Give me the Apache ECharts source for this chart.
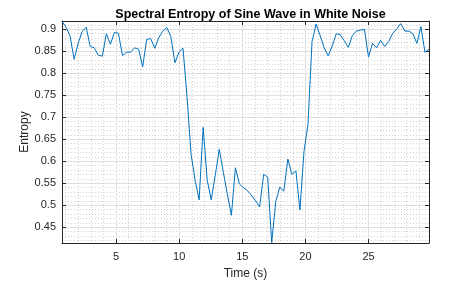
<!DOCTYPE html>
<html><head><meta charset="utf-8">
<script src="https://cdn.jsdelivr.net/npm/echarts@6/dist/echarts.min.js"></script>
<style>html,body{margin:0;padding:0;background:#fff}#c{width:474px;height:285px}</style>
</head><body><div id="c"></div>
<script>
const titleText = 'Spectral Entropy of Sine Wave in White Noise';
const xName = 'Time (s)';
const yName = 'Entropy';
const times = [
  0.714,1.034,1.353,1.673,1.992,2.312,2.631,2.951,3.270,3.590,
  3.909,4.229,4.548,4.868,5.187,5.507,5.826,6.146,6.465,6.785,
  7.104,7.424,7.743,8.063,8.382,8.702,9.021,9.341,9.660,9.980,
  10.299,10.619,10.938,11.258,11.577,11.897,12.216,12.536,12.855,13.175,
  13.494,13.814,14.133,14.453,14.772,15.092,15.411,15.731,16.050,16.370,
  16.689,17.009,17.328,17.648,17.967,18.287,18.606,18.926,19.245,19.565,
  19.884,20.204,20.523,20.843,21.162,21.482,21.801,22.121,22.440,22.760,
  23.079,23.399,23.718,24.038,24.357,24.677,24.996,25.316,25.635,25.955,
  26.274,26.594,26.913,27.233,27.552,27.872,28.191,28.511,28.830,29.150,
  29.469,29.789
];
const entropy = [
  0.918,0.905,0.885,0.832,0.868,0.895,0.905,0.861,0.858,0.841,
  0.839,0.890,0.866,0.893,0.891,0.840,0.848,0.848,0.858,0.855,
  0.815,0.877,0.879,0.857,0.881,0.896,0.904,0.883,0.824,0.848,
  0.857,0.747,0.616,0.557,0.512,0.677,0.557,0.512,0.568,0.627,
  0.575,0.525,0.477,0.585,0.548,0.540,0.533,0.522,0.510,0.496,
  0.570,0.564,0.415,0.508,0.541,0.532,0.605,0.570,0.578,0.489,
  0.622,0.684,0.872,0.912,0.886,0.858,0.840,0.862,0.890,0.888,
  0.874,0.859,0.886,0.896,0.898,0.900,0.837,0.868,0.858,0.875,
  0.861,0.872,0.891,0.901,0.913,0.896,0.896,0.890,0.868,0.906,
  0.848,0.855
];
const xMajor = 5, xMinor = 1;
const yMajor = 0.05, yMinor = 0.01;

const xMin = times[0], xMax = times[times.length - 1];
const yMin = 0.414, yMax = 0.919;
const txt = '#262626';
const fontFam = '"Liberation Sans", Arial, Helvetica, sans-serif';
const majorGrid = {show: true, lineStyle: {color: '#dfdfdf', width: 1, type: 'solid'}};
const minorGrid = {show: true, lineStyle: {color: '#d2d2d2', width: 1, type: [1, 2]}};
const hidden = {axisLine: {show: false}, axisTick: {show: false}, axisLabel: {show: false}};

const chart = echarts.init(document.getElementById('c'), null, {renderer: 'canvas'});
chart.setOption({
  animation: false,
  backgroundColor: '#fff',
  title: {
    text: titleText, left: 245.5, textAlign: 'center', top: 3,
    textStyle: {fontFamily: fontFam, fontSize: 12.5, fontWeight: 'bold', color: '#000'}
  },
  grid: {left: 62, right: 45, top: 21, bottom: 33, containLabel: false},
  xAxis: [
    {
      type: 'value', min: xMin, max: xMax, minInterval: xMinor, maxInterval: xMinor, splitNumber: 30,
      position: 'bottom', ...hidden, splitLine: minorGrid, z: 0
    },
    {
      type: 'value', min: xMin, max: xMax, minInterval: xMajor, maxInterval: xMajor, splitNumber: 6,
      position: 'bottom',
      name: xName, nameLocation: 'middle', nameGap: 25, nameMoveOverlap: false,
      nameTextStyle: {fontFamily: fontFam, fontSize: 12, color: txt},
      axisLine: {show: true, onZero: false, lineStyle: {color: txt, width: 1}},
      axisTick: {show: true, inside: true, length: 4, lineStyle: {color: txt}},
      axisLabel: {fontFamily: fontFam, fontSize: 11, color: txt, margin: 8, showMinLabel: false, showMaxLabel: false},
      splitLine: majorGrid
    },
    {
      type: 'value', min: xMin, max: xMax, minInterval: xMajor, maxInterval: xMajor, splitNumber: 6,
      position: 'top',
      axisLine: {show: true, onZero: false, lineStyle: {color: txt, width: 1}},
      axisTick: {show: true, inside: true, length: 4, lineStyle: {color: txt}},
      axisLabel: {show: false}, splitLine: {show: false}
    }
  ],
  yAxis: [
    {
      type: 'value', min: yMin, max: yMax, minInterval: yMinor, maxInterval: yMinor, splitNumber: 60,
      position: 'left', ...hidden, splitLine: minorGrid, z: 0
    },
    {
      type: 'value', min: yMin, max: yMax, minInterval: yMajor, maxInterval: yMajor, splitNumber: 10,
      position: 'left',
      name: yName, nameLocation: 'middle', nameGap: 31, nameRotate: 90, nameMoveOverlap: false,
      nameTextStyle: {fontFamily: fontFam, fontSize: 12, color: txt},
      axisLine: {show: true, onZero: false, lineStyle: {color: txt, width: 1}},
      axisTick: {show: true, inside: true, length: 4, lineStyle: {color: txt}},
      axisLabel: {fontFamily: fontFam, fontSize: 11, color: txt, margin: 6, showMinLabel: false, showMaxLabel: false},
      splitLine: majorGrid
    },
    {
      type: 'value', min: yMin, max: yMax, minInterval: yMajor, maxInterval: yMajor, splitNumber: 10,
      position: 'right',
      axisLine: {show: true, onZero: false, lineStyle: {color: txt, width: 1}},
      axisTick: {show: true, inside: true, length: 4, lineStyle: {color: txt}},
      axisLabel: {show: false}, splitLine: {show: false}
    }
  ],
  series: [{
    type: 'line', xAxisIndex: 1, yAxisIndex: 1,
    data: times.map((t, i) => [t, entropy[i]]),
    showSymbol: false, symbol: 'none',
    lineStyle: {color: '#0072BD', width: 1},
    z: 5
  }]
});
</script>
</body></html>
